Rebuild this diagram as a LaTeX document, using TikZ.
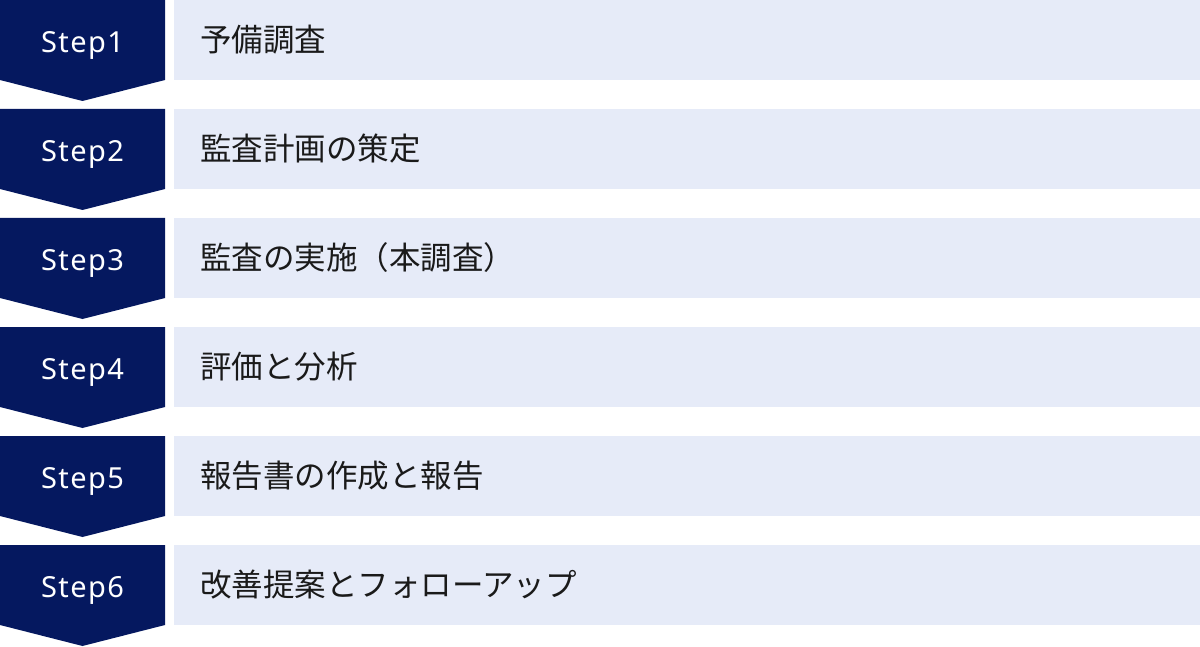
\documentclass[tikz,border=0pt]{standalone}
\usepackage{fontspec}
\setmainfont{Noto Sans CJK JP}
\newfontfamily\stepfont[LetterSpace=5]{Noto Sans}

\definecolor{navy}{HTML}{05185F}
\definecolor{pale}{HTML}{E6EBF8}
\definecolor{ink}{HTML}{1A1A1A}

\begin{document}
\begin{tikzpicture}[x=1pt,y=-1pt, every node/.style={inner sep=0pt}]
\useasboundingbox (0,0) rectangle (1200,647);

\foreach \n/\t in {1/予備調査,2/監査計画の策定,3/監査の実施（本調査）,4/評価と分析,5/報告書の作成と報告,6/改善提案とフォローアップ}
   {
	\coordinate (top\n) at (0,{109*(\n-1)});
	\fill[navy] (top\n) -- ++(165,0) -- ++(0,80) -- ++(-82.5,21) -- ++(-82.5,-21) -- cycle;
	\path (top\n) ++(82.5,45) node[text=white, font=\stepfont\fontsize{29}{34}\selectfont] (step\n) {Step\n};
	\fill[pale] (top\n) ++(174,0) rectangle +(1026,80);
	\path (top\n) ++(200,40) node[anchor=west, text=ink, font=\fontsize{31.5}{38}\selectfont] (task\n) {\t};
   };
\end{tikzpicture}
\end{document}
